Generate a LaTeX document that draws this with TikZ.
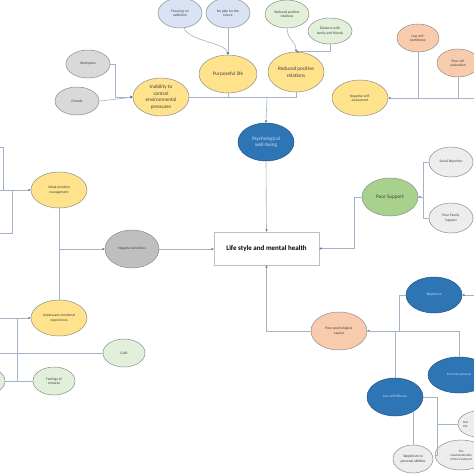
\documentclass[tikz,border=0pt]{standalone}
\usepackage{fontspec}
\setmainfont{Carlito}
\usetikzlibrary{shapes.geometric,arrows.meta,calc}
\definecolor{lblue}{HTML}{DAE3F3}
\definecolor{lgreen}{HTML}{E2EFDA}
\definecolor{yel}{HTML}{FFE38C}
\definecolor{gry}{HTML}{D9D9D9}
\definecolor{dgry}{HTML}{BFBFBF}
\definecolor{ora}{HTML}{F8CBAD}
\definecolor{dblue}{HTML}{2E75B6}
\definecolor{grn}{HTML}{A9D18E}
\definecolor{lgry}{HTML}{EDEDED}
\definecolor{elline}{HTML}{8C8C8C}
\definecolor{lineclr}{HTML}{A3B3C8}
\definecolor{arrclr}{HTML}{4A6A9A}
\definecolor{txt}{HTML}{404040}
\definecolor{wtxt}{HTML}{CFDCEE}
\tikzset{
  el/.style={ellipse, draw=elline, line width=0.5pt, inner sep=0pt, align=center, text=txt},
  sz/.style 2 args={minimum width=#1pt, minimum height=#2pt},
  tinyf/.style={font=\fontsize{3.6}{4.4}\selectfont},
  smallf/.style={font=\fontsize{3.2}{4.0}\selectfont},
  midf/.style={font=\fontsize{5.2}{6.6}\selectfont},
  blueel/.style={el, fill=dblue, draw=dblue!70!black, text=wtxt},
  conn/.style={draw=lineclr, line width=0.6pt},
  arr/.style={-{Stealth[length=2.6pt,width=2.4pt,color=arrclr]}}
}
\begin{document}
\begin{tikzpicture}[x=1pt,y=-1pt]
\useasboundingbox (0,0) rectangle (474,474);
\clip (0,0) rectangle (474,474);
\fill[white] (0,0) rectangle (474,474);

% top row
\node[el, fill=lblue, sz={44}{30}, tinyf] (fa) at (180,13) {Focusing on\\addiction};
\node[el, fill=lblue, sz={44}{30}, tinyf] (np) at (228,13) {No plan for the\\future};
\node[el, fill=lgreen, sz={44}{28}, tinyf] (rpr) at (287,14) {Reduced positive\\relations};
\node[el, fill=lgreen, sz={44}{26}, tinyf] (dist) at (330,31) {Distance with\\family and friends};

% second level
\node[el, fill=yel, sz={58}{38}, midf] (pl) at (228,74) {Purposeful life};
\node[el, fill=yel, sz={56}{40}, midf] (rp) at (296,72) {Reduced positive\\relations};
\node[el, fill=yel, sz={56}{38}, midf] (inab) at (161,97) {Inability to\\control\\environmental\\pressures};
\node[el, fill=gry, sz={44}{28}, tinyf] (wp) at (88,64) {Workplace};
\node[el, fill=gry, sz={44}{28}, tinyf] (fr) at (77,101) {Friends};

\node[el, fill=yel, sz={56}{36}, tinyf] (nsa) at (360,98) {Negative self-\\assessment};
\node[el, fill=ora, sz={42}{28}, tinyf] (lsc) at (418,38) {Low self-\\confidence};
\node[el, fill=ora, sz={42}{28}, tinyf] (pse) at (458,63) {Poor self\\evaluation};

\node[blueel, sz={56}{38}, midf] (pwb) at (266,142) {Psychological\\well-being};

% central box
\node[draw=dgry, fill=white, line width=0.5pt, minimum width=105pt, minimum height=33pt, inner sep=0pt,
      font=\fontsize{7}{8}\selectfont\bfseries, text=black] (life) at (266.5,248.5) {Life style and mental health};

% right
\node[el, fill=grn, sz={56}{38}, midf] (ps) at (390,197) {Poor Support};
\node[el, fill=lgry, sz={44}{30}, tinyf] (sr) at (451,162) {Social Rejection};
\node[el, fill=lgry, sz={44}{30}, tinyf] (pfs) at (451,218) {Poor Family\\Support};

% bottom right
\node[el, fill=ora, sz={56}{38}, tinyf] (ppc) at (339,331) {Poor psychological\\capital};
\node[blueel, sz={56}{36}, tinyf] (sk) at (434,295) {Skepticism};
\node[blueel, sz={62}{36}, smallf] (pi) at (459,375) {Poor interpersonal};
\node[blueel, sz={56}{38}, tinyf] (lse) at (395,397) {Low self-efficacy};
\node[el, fill=lgry, sz={40}{28}, tinyf] (spa) at (413,459) {Skepticism to\\personal abilities};
\node[el, fill=lgry, sz={40}{26}] (nt) at (478,424) {};
\node[smallf, text=txt, align=left, anchor=west, inner sep=0pt] (ntt) at (463,424) {Not\\the};
\node[el, fill=lgry, sz={52}{30}, smallf] (un) at (461,455) {The\\unsubstantiation\\of the treatment};

% left
\node[el, fill=yel, sz={56}{36}, tinyf] (wem) at (59,190) {Weak emotion\\management};
\node[el, fill=dgry, sz={54}{38}, tinyf] (ne) at (132,249) {Negative emotions};
\node[el, fill=yel, sz={56}{36}, tinyf] (uee) at (59,318) {Unpleasant emotional\\experiences};
\node[el, fill=lgreen, sz={42}{28}, tinyf] (gu) at (124,353) {Guilt};
\node[el, fill=lgreen, sz={42}{28}, tinyf] (fre) at (54,381) {Feelings of\\remorse};
\node[el, fill=lgreen, sz={42}{28}, tinyf] (lc) at (-16,381) {};

% coordinates
\coordinate (hub) at (267,97);
\coordinate (re1) at (480,98);
\coordinate (re2) at (480,295);
\coordinate (re3) at (480,218);
\coordinate (le1) at (-5,147);
\coordinate (le2) at (-5,190);
\coordinate (le3) at (-5,233);
\coordinate (le4) at (-5,318);
\coordinate (le5) at (-5,353);

% connectors top
\draw[conn,arr] (fa.-75) .. controls (190,42) and (226,42) .. (pl.north);
\draw[conn,arr] (np.south) -- (pl.north);
\draw[conn,arr] (rpr.south) .. controls (288,42) and (296,40) .. (rp.north);
\draw[conn,arr] (dist.south) |- (rp.north);
\draw[conn,arr] (wp.east) -- (115,64) |- (inab.west);
\draw[conn,arr] (fr.east) .. controls (110,100) .. (inab.west);
\draw[conn] (inab.east) -- (hub);
\draw[conn] (pl.south) |- (hub);
\draw[conn] (rp.south) |- (hub);
\draw[conn,arr] (hub) -- (pwb.north);
\draw[conn,arr] (pwb.south) -- (life.north);

\draw[conn,arr] (re1) -- (nsa.east);
\draw[conn] (lsc.south) -- (lsc.south |- re1);
\draw[conn] (pse.south) -- (pse.south |- re1);

% right connectors
\draw[conn,arr] (ps.west) -- ++(-7,0) |- (life.east);
\draw[conn,arr] (sr.west) -- (423,162) |- (ps.east);
\draw[conn] (pfs.west) -- (423,218) |- (ps.east);
\draw[conn,arr] (re3) -- (pfs.east);

% bottom right connectors
\draw[conn,arr] (ppc.west) -| (life.south);
\draw[conn,arr] (sk.west) -- (399,295) |- (ppc.east);
\draw[conn] (pi.north) |- (ppc.east);
\draw[conn] (lse.north) |- (ppc.east);
\draw[conn,arr] (re2) -- (sk.east);
\draw[conn] (lse.east) -- (437,397) |- (nt.west);
\draw[conn] (437,420) |- (un.west);
\draw[conn] (lse.-40) -- (lse.-40 |- spa.north);

% left connectors
\draw[conn] (le1) -- (3,147) -- (3,190);
\draw[conn,arr] (le2) -- (wem.west);
\draw[conn] (12,190) -- (12,233) -- (le3);
\draw[conn] (wem.south) -- (uee.north);
\draw[conn,arr] (wem.south |- ne.west) -- (ne.west);
\draw[conn,arr] (ne.east) -- (ne.east -| life.west);
\draw[conn,arr] (le4) -- (uee.west);
\draw[conn] (17,318) -- (17,381);
\draw[conn] (lc.east) -- (fre.west);
\draw[conn] (le5) -- (gu.west);
\end{tikzpicture}
\end{document}
